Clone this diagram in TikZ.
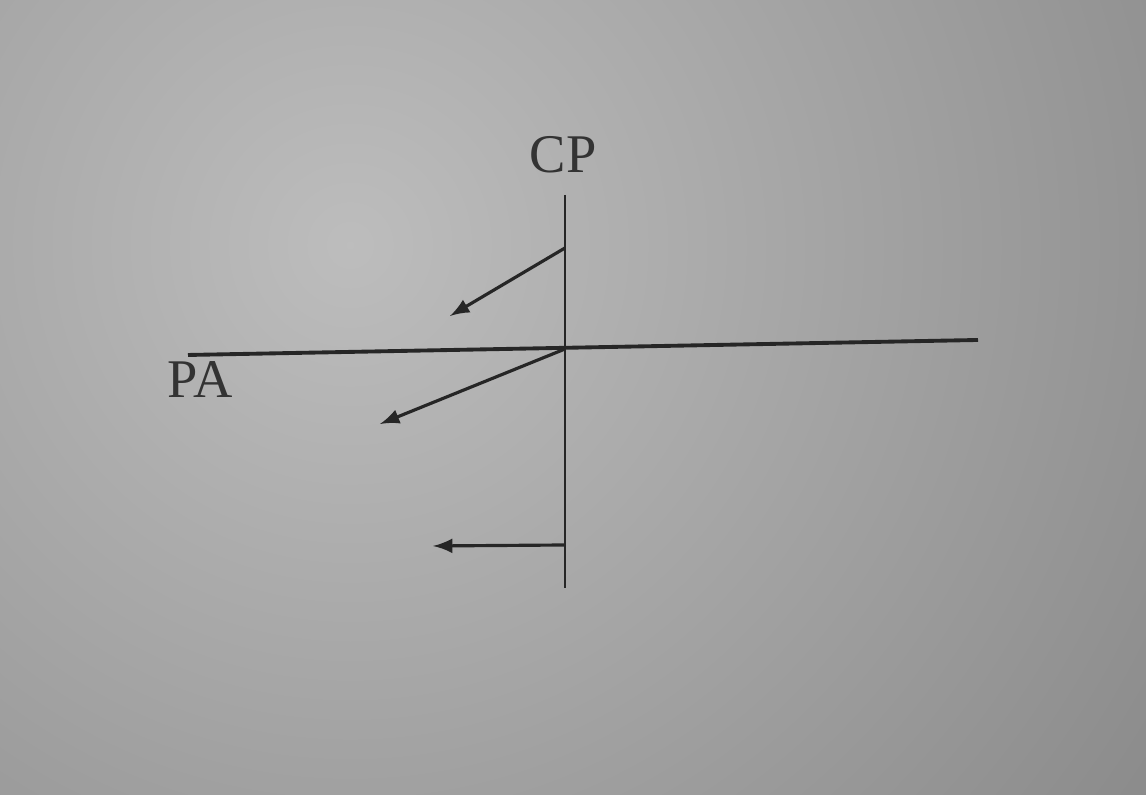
\documentclass[tikz,border=0pt]{standalone}
\usepackage{fontspec}
\setmainfont{Liberation Serif}
\begin{document}
\begin{tikzpicture}[scale=1,
 axisline/.style={color=black!85, line width=1.1pt},
 ray/.style={-latex, color=black!85, line width=0.9pt},
 lbl/.style={font=\fontsize{15.5}{17}\selectfont, text=black!80}]
\useasboundingbox (0,0) rectangle (11.46,7.95);
\clip (0,0) rectangle (11.46,7.95);
\shade[inner color=black!26, outer color=black!66] (3.5,5.5) circle (20);
% axes
\coordinate (cptop) at (5.65,6.00);
\coordinate (cpbot) at (5.65,2.07);
\coordinate (paleft) at (1.88,4.40);
\coordinate (paright) at (9.78,4.55);
\draw[axisline, line width=0.8pt] (cptop) -- (cpbot);
\draw[axisline] (paleft) -- (paright);
\node[lbl] (cp) at (5.63,6.40) {CP};
\node[lbl] (pa) at (2.00,4.15) {PA};
% rays
\coordinate (s1) at (5.65,5.47); \coordinate (e1) at (4.50,4.79);
\coordinate (s2) at (5.65,4.46); \coordinate (e2) at (3.80,3.71);
\coordinate (s3) at (5.65,2.50); \coordinate (e3) at (4.33,2.49);
\foreach \s/\e in {s1/e1, s2/e2, s3/e3}
\draw[ray] (\s) -- (\e);
\end{tikzpicture}
\end{document}
